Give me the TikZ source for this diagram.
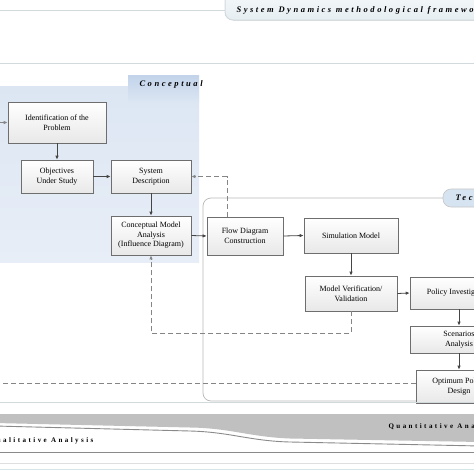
\documentclass[tikz,border=0pt]{standalone}
\usepackage{fontspec}
\setmainfont{Liberation Serif}
\usetikzlibrary{arrows.meta,shadows}
\definecolor{boxline}{HTML}{6E6E6E}
\definecolor{arrowc}{HTML}{454545}
\definecolor{dashc}{HTML}{858585}
\definecolor{sepline}{HTML}{D3DADE}
\definecolor{concfill}{HTML}{DCE6F3}
\definecolor{concfillb}{HTML}{E8EEF7}
\definecolor{conctab}{HTML}{C2D3EA}
\definecolor{techtab}{HTML}{D6E3F0}
\definecolor{titletab}{HTML}{E6EEF2}
\definecolor{bandgray}{HTML}{C0C0C0}
\definecolor{qualline}{HTML}{8A8A8A}
\definecolor{cyanline}{HTML}{D5E6E9}
\begin{document}
\begin{tikzpicture}[x=1pt,y=-1pt,
  stepbox/.style={draw=boxline, line width=0.6pt, top color=white, bottom color=gray!18,
    align=center, font=\fontsize{8}{9.5}\selectfont, inner sep=1pt,
    drop shadow={opacity=0.25, shadow xshift=1pt, shadow yshift=-1pt}},
  arr/.style={draw=arrowc, line width=0.8pt, -{Latex[length=4pt,width=3.5pt]}},
  darr/.style={draw=dashc, line width=0.9pt, dash pattern=on 5pt off 3pt, -{Latex[length=4pt,width=3.5pt]}},
  tabtext/.style={font=\fontsize{8.5}{10}\selectfont\bfseries\itshape\addfontfeature{LetterSpace=30}},
  bandtext/.style={font=\fontsize{7}{8}\selectfont\bfseries\addfontfeature{LetterSpace=35}}
]
\useasboundingbox (0,0) rectangle (474,474);
\clip (0,0) rectangle (474,474);
\fill[white] (0,0) rectangle (474,474);

% top separators and title
\draw[sepline, line width=1pt] (0,10) -- (225,10);
\draw[sepline, line width=1pt] (0,63) -- (474,63);
\filldraw[top color=white!60!titletab, bottom color=titletab, draw=sepline, line width=1pt, rounded corners=8pt] (225,-8) rectangle (520,20);
\node[tabtext, anchor=west] (title) at (233,10) {System Dynamics methodological framework};

% conceptual region
\fill[top color=concfill, bottom color=concfillb] (-10,86) rectangle (199,262);
\fill[top color=conctab, bottom color=concfill] (128,75) rectangle (199,102);
\node[tabtext, anchor=west] (conc) at (136,84) {Conceptual};

% technical region
\filldraw[fill=white, draw=gray!55, line width=0.7pt, rounded corners=8pt] (203,198) rectangle (520,401);
\filldraw[fill=techtab, draw=gray!45, line width=0.6pt, rounded corners=8pt] (443,189) rectangle (520,207);
\node[tabtext, anchor=west] (tech) at (452,198) {Technical};

% step boxes
\node[stepbox, minimum width=98pt, minimum height=41pt] (ident) at (57,122.5) {Identification of the\\Problem};
\node[stepbox, minimum width=72pt, minimum height=33pt] (obj) at (57,176.5) {Objectives\\Under Study};
\node[stepbox, minimum width=80pt, minimum height=33pt] (sysd) at (151,176.5) {System\\Description};
\node[stepbox, minimum width=80pt, minimum height=39pt] (cma) at (151,235.5) {Conceptual Model\\Analysis\\(Influence Diagram)};
\node[stepbox, minimum width=76pt, minimum height=38pt] (flow) at (245,236) {Flow Diagram\\Construction};
\node[stepbox, minimum width=94pt, minimum height=35pt] (sim) at (351,235.5) {Simulation Model};
\node[stepbox, minimum width=92pt, minimum height=35pt] (mv) at (351,293.5) {Model Verification/\\Validation};
\node[stepbox, minimum width=98pt, minimum height=32pt] (pol) at (459,293) {Policy Investigation};
\node[stepbox, minimum width=98pt, minimum height=27pt] (scen) at (459,339.5) {Scenarios\\Analysis};
\node[stepbox, minimum width=86pt, minimum height=33pt] (opt) at (459,386.5) {Optimum Policy\\Design};

% solid arrows
\draw[arr] (ident.south) -- (obj.north);
\draw[arr] (obj.east) -- (sysd.west);
\draw[arr] (sysd.south) -- (cma.north);
\draw[arr] (cma.east) -- (flow.west);
\draw[arr] (flow.east) -- (sim.west);
\draw[arr] (sim.south) -- (mv.north);
\draw[arr] (mv.east) -- (pol.west);
\draw[arr] (pol.south) -- (scen.north);
\draw[arr] (scen.south) -- (opt.north);

% dashed feedback arrows
\draw[darr] ([xshift=-18pt]flow.north) |- (sysd.east);
\draw[darr] (mv.south) -- ++(0,22) -| (cma.south);
\draw[darr] ([yshift=3pt]opt.west) -- (-10,383.5) |- (ident.west);

% bottom band
\draw[sepline, line width=1pt] (0,402.5) -- (474,402.5);
\fill[bandgray] (-5,414) -- (480,414) -- (480,442) -- (290,438.5)
  .. controls (250,437) and (230,428) .. (190,427.5) -- (-5,423) -- cycle;
\draw[qualline, line width=0.9pt] (-5,426) -- (190,431) .. controls (230,432) and (250,441) .. (290,442) -- (480,446);
\draw[qualline, line width=0.9pt] (-5,452) -- (480,452);
\node[bandtext, anchor=west] (quant) at (385,427) {Quantitative Analysis};
\node[bandtext, anchor=east] (qual) at (97,441) {Qualitative Analysis};
\draw[gray!25, line width=0.8pt] (0,463.5) -- (474,463.5);
\draw[cyanline, line width=1pt] (0,469.5) -- (474,469.5);
\end{tikzpicture}
\end{document}
